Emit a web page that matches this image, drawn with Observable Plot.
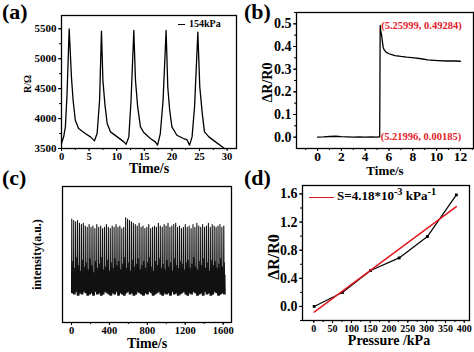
<!DOCTYPE html>
<html><head><meta charset="utf-8">
<script src="https://cdn.jsdelivr.net/npm/d3@7"></script>
<script src="https://cdn.jsdelivr.net/npm/@observablehq/plot@0.6"></script>
<style>
body{margin:0;background:#fff;}
#root{position:relative;width:474px;height:352px;overflow:hidden;background:#fff;font-family:"Liberation Serif",serif;font-weight:bold;color:#000;}
.panel{position:absolute;}
.panel svg{overflow:visible;}
.tag{position:absolute;font-size:22px;line-height:20px;}
.leg{position:absolute;white-space:nowrap;}
.leg .ln{display:inline-block;vertical-align:middle;}
sup{font-size:80%;line-height:0;}
</style></head><body><div id="root"></div>
<script>
// ---------- (a) resistance vs time at 154 kPa ----------
const aT = [0,0.4,0.7,1.0,1.39,1.8,2.1,2.5,3.1,4.3,5.25,5.97,6.45,6.9,7.24,7.5,7.85,8.27,8.87,10.1,11.3,11.7,12.2,12.6,13.1,13.4,13.8,14.3,14.9,16.1,17.0,17.4,17.9,18.4,18.95,19.25,19.6,20.0,20.9,22.1,22.7,23.2,23.65,24.1,24.7,25.05,25.5,25.9,26.7,27.9,29.1,29.5];
const aR = [3583,3700,3861,4400,5500,4694,4306,3972,3833,3750,3694,3628,3750,4306,5461,4639,4250,3917,3778,3694,3611,3572,3694,4306,5472,4639,4194,3861,3767,3667,3611,3556,3750,4306,5472,4528,4139,3861,3722,3667,3650,3556,3694,4194,5444,4528,4083,3778,3694,3611,3528,3500];
const aTicksX = [0,5,10,15,20,25,30];
const aTicksY = [3500,4000,4500,5000,5500];
const aLegend = "154kPa";

// ---------- (b) response step ----------
const bT = [0,0.5,1,1.5,2,2.5,3,3.5,4,4.5,5,5.21996,5.25999,5.3,5.38,5.45,5.52,5.6,5.75,6,6.17,6.5,7,7.5,8.13,8.7,9.25,10.1,10.9,11.5,12];
const bV = [0.000,0.001,0.003,0.004,0.002,0.001,0.000,0.001,0.000,0.001,0.000,0.00185,0.49284,0.47,0.45,0.42,0.395,0.385,0.375,0.368,0.365,0.36,0.356,0.353,0.35,0.346,0.341,0.338,0.336,0.336,0.335];
const bTicksX = [0,2,4,6,8,10,12];
const bTicksY = [0,0.1,0.2,0.3,0.4,0.5];
const bNoteX = [5.25999,5.21996];
const bNoteY = [0.49284,0.00185];
const bNoteText = ["(5.25999, 0.49284)","(5.21996, 0.00185)"];

// ---------- (c) cycling intensity ----------
const cPeak = [0.76,0.75,0.74,0.75,0.73,0.72,0.73,0.71,0.70,0.72,
  0.70,0.71,0.69,0.72,0.70,0.71,0.69,0.70,0.72,0.70,
  0.69,0.71,0.70,0.72,0.70,0.71,0.69,0.70,0.77,0.76,
  0.75,0.74,0.73,0.72,0.71,0.73,0.70,0.71,0.69,0.70,
  0.72,0.69,0.70,0.71,0.70,0.73,0.71,0.70,0.72,0.71,
  0.73,0.70,0.71,0.72,0.73,0.70,0.71,0.69,0.70,0.72,
  0.70,0.71,0.69,0.72,0.70,0.73,0.71,0.70,0.72,0.70,
  0.71,0.73,0.70,0.72,0.71,0.70,0.71,0.72,0.70,0.71];
const cMid = [0.45,0.40,0.48,0.42,0.38,0.46,0.41,0.44,0.39,0.47,
  0.42,0.37,0.45,0.40,0.43,0.48,0.39,0.41,0.46,0.38,
  0.44,0.40,0.47,0.42,0.45,0.39,0.43,0.48,0.40,0.44,
  0.38,0.46,0.41,0.43,0.47,0.39,0.42,0.45,0.40,0.44,
  0.48,0.41,0.38,0.45,0.42,0.47,0.40,0.43,0.39,0.46,
  0.41,0.44,0.38,0.47,0.42,0.40,0.45,0.43,0.39,0.44,
  0.46,0.40,0.43,0.48,0.41,0.39,0.45,0.42,0.47,0.40,
  0.44,0.38,0.46,0.42,0.45,0.40,0.43,0.47,0.41,0.44];
const cMid2 = [0.33,0.36,0.31,0.38,0.34,0.30,0.37,0.35,0.32,0.36,
  0.39,0.33,0.31,0.35,0.37,0.32,0.34,0.38,0.30,0.36,
  0.33,0.37,0.35,0.31,0.34,0.38,0.32,0.36,0.33,0.30,
  0.35,0.37,0.32,0.34,0.31,0.38,0.36,0.33,0.35,0.30,
  0.34,0.37,0.32,0.36,0.39,0.33,0.31,0.35,0.37,0.32,
  0.36,0.30,0.34,0.38,0.33,0.35,0.31,0.37,0.34,0.32,
  0.36,0.33,0.38,0.31,0.35,0.37,0.32,0.34,0.30,0.36,
  0.33,0.37,0.35,0.31,0.34,0.38,0.32,0.36,0.33,0.35];
const cLow = [0.22,0.21,0.23,0.20,0.22,0.21,0.23,0.22,0.20,0.21,
  0.22,0.20,0.23,0.21,0.22,0.20,0.21,0.23,0.22,0.21,
  0.20,0.22,0.21,0.23,0.20,0.22,0.21,0.20,0.22,0.23,
  0.21,0.22,0.20,0.21,0.23,0.22,0.21,0.20,0.22,0.21,
  0.23,0.22,0.20,0.21,0.22,0.23,0.21,0.20,0.22,0.21,
  0.22,0.20,0.23,0.21,0.22,0.20,0.21,0.22,0.23,0.21,
  0.20,0.22,0.21,0.23,0.22,0.20,0.21,0.22,0.20,0.23,
  0.21,0.22,0.20,0.21,0.23,0.22,0.20,0.21,0.22,0.21];
const cPeriod = 20.3; // seconds per loading cycle
const cTicksX = [0,400,800,1200,1600];

// ---------- (d) sensitivity ----------
const dP = [1,76,151,227,302,379];
const dR = [0.0,0.199,0.511,0.69,0.994,1.586];
const dFitP = [1,379];
const dFitR = [-0.08,1.42];
const dTicksX = [0,50,100,150,200,250,300,350,400];
const dTicksY = [0,0.4,0.8,1.2,1.6];

const root = document.getElementById("root");
const baseStyle = {fontFamily:"Liberation Serif, serif", fontWeight:"bold", fontSize:"10px", overflow:"visible", background:"none", color:"black"};
function place(svg, left, top){
  const d = document.createElement("div"); d.className="panel";
  d.style.left = left+"px"; d.style.top = top+"px"; d.appendChild(svg); root.appendChild(d);
}
function tag(txt, left, top){
  const d = document.createElement("div"); d.className="tag"; d.textContent=txt;
  d.style.left=left+"px"; d.style.top=top+"px"; root.appendChild(d);
}
const range = (a,b,s)=>d3.range(a,b+s/2,s);
const yTitle = (s, dx, dy, fs) => Plot.text([s], {text:d=>d, frameAnchor:"left", textAnchor:"middle", rotate:-90, dx, dy, fontSize:fs});

// (a)
const aData = aT.map((t,i)=>({t, r:aR[i]}));
place(Plot.plot({
  width:237, height:176, marginLeft:61, marginRight:1, marginTop:15, marginBottom:28,
  style: baseStyle,
  x:{domain:[0,31.7]}, y:{domain:[3500,5722]},
  marks:[
    Plot.axisX({ticks: range(0,30,2.5), tickSize:2, tickFormat:()=>"", label:null}),
    Plot.axisY({ticks: range(3500,5500,250), tickSize:2, tickFormat:()=>"", label:null}),
    Plot.axisX({ticks:aTicksX, tickSize:3, tickPadding:1, fontSize:10.5, tickFormat:"d", label:null}),
    Plot.axisY({ticks:aTicksY, tickSize:3, tickPadding:2, fontSize:11, tickFormat:"d", label:null}),
    Plot.line(aData, {x:"t", y:"r", stroke:"black", strokeWidth:1.3}),
    Plot.frame({stroke:"black", strokeWidth:1.3}),
    Plot.text(["Time/s"], {text:d=>d, frameAnchor:"bottom", dy:24.5, fontSize:14}),
    yTitle("R/Ω", -34, 2, 10)
  ]
}), 0, 0);

// (b)
const bData = bT.map((t,i)=>({t, v:bV[i]}));
const bNotes = bNoteX.map((x,i)=>({x, y:bNoteY[i], s:bNoteText[i]}));
place(Plot.plot({
  width:237, height:176, marginLeft:59, marginRight:1, marginTop:12, marginBottom:28,
  style: baseStyle,
  x:{domain:[-1.77,13.1]}, y:{domain:[-0.05,0.55]},
  marks:[
    Plot.axisX({ticks: range(-1,13,1), tickSize:2, tickFormat:()=>"", label:null}),
    Plot.axisY({ticks: range(0,0.55,0.05), tickSize:2, tickFormat:()=>"", label:null}),
    Plot.axisX({ticks:bTicksX, tickSize:3, tickPadding:0, fontSize:13.5, tickFormat:"d", label:null}),
    Plot.axisY({ticks:bTicksY, tickSize:3, tickPadding:2, fontSize:14, tickFormat:".1f", label:null}),
    Plot.line(bData, {x:"t", y:"v", stroke:"black", strokeWidth:1.3}),
    Plot.frame({stroke:"black", strokeWidth:1.3}),
    Plot.text(bNotes, {x:"x", y:"y", text:"s", textAnchor:"start", dx:1, fill:"#e3202a", fontSize:10.5}),
    Plot.text(["Time/s"], {text:d=>d, frameAnchor:"bottom", dy:26, fontSize:13}),
    yTitle("ΔR/R0", -29, 2, 14)
  ]
}), 237, 0);

// (c)
const cData = [];
cPeak.forEach((p,i)=>{
  const t0 = i*cPeriod;
  cData.push({t:t0, v:cLow[i]});
  cData.push({t:t0+3, v:p});
  cData.push({t:t0+6, v:cLow[i]});
  cData.push({t:t0+9, v:cMid[i]});
  cData.push({t:t0+12, v:cLow[i]});
  cData.push({t:t0+15, v:cMid2[i]});
  cData.push({t:t0+18, v:cLow[i]});
});
place(Plot.plot({
  width:237, height:176, marginLeft:62, marginRight:6, marginTop:10, marginBottom:30,
  style: baseStyle,
  x:{domain:[-95,1688]}, y:{domain:[0,1], axis:null},
  marks:[
    Plot.axisX({ticks: range(0,1600,200), tickSize:2, tickFormat:()=>"", label:null}),
    Plot.axisX({ticks:cTicksX, tickSize:3, tickPadding:1, fontSize:10.5, tickFormat:"d", label:null}),
    Plot.line(cData, {x:"t", y:"v", stroke:"#111", strokeWidth:1.1}),
    Plot.frame({stroke:"black", strokeWidth:1.3}),
    Plot.text(["Time/s"], {text:d=>d, frameAnchor:"bottom", dy:25, fontSize:14}),
    yTitle("intensity(a.u.)", -25, 0, 12)
  ]
}), 0, 176);

// (d)
const dData = dP.map((p,i)=>({p, r:dR[i]}));
const dFit = dFitP.map((p,i)=>({p, r:dFitR[i]}));
place(Plot.plot({
  width:237, height:176, marginLeft:65, marginRight:5, marginTop:9, marginBottom:32,
  style: baseStyle,
  x:{domain:[-30,414]}, y:{domain:[-0.2,1.72]},
  marks:[
    Plot.axisX({ticks: range(0,400,25), tickSize:2, tickFormat:()=>"", label:null}),
    Plot.axisY({ticks: range(-0.2,1.6,0.2), tickSize:2, tickFormat:()=>"", label:null}),
    Plot.axisX({ticks:dTicksX, tickSize:3, tickPadding:1, fontSize:10, tickFormat:"d", label:null}),
    Plot.axisY({ticks:dTicksY, tickSize:3, tickPadding:2, fontSize:14, tickFormat:".1f", label:null}),
    Plot.line(dData, {x:"p", y:"r", stroke:"black", strokeWidth:1.2}),
    Plot.dot(dData, {x:"p", y:"r", symbol:"square", r:1.6, fill:"black"}),
    Plot.line(dFit, {x:"p", y:"r", stroke:"#e3191f", strokeWidth:1.5}),
    Plot.frame({stroke:"black", strokeWidth:1.3}),
    Plot.text(["Pressure /kPa"], {text:d=>d, frameAnchor:"bottom", dy:24, dx:3, fontSize:14}),
    yTitle("ΔR/R0", -29, 4, 16)
  ]
}), 237, 176);

// panel tags
tag("(a)", 2, 2); tag("(b)", 244, 2); tag("(c)", 2, 168); tag("(d)", 244, 168);

// legends
const la = document.createElement("div"); la.className="leg";
la.style.left="178px"; la.style.top="18px"; la.style.fontSize="10px";
la.innerHTML = '<span class="ln" style="width:7px;border-top:1.3px solid #000;margin-right:4px"></span>' + aLegend;
root.appendChild(la);
const ld = document.createElement("div"); ld.className="leg";
ld.style.left="309px"; ld.style.top="188px"; ld.style.fontSize="13px";
ld.innerHTML = '<span class="ln" style="width:25px;border-top:1.5px solid #e3191f;margin-right:3px"></span>S=4.18*10<sup>-3</sup> kPa<sup>-1</sup>';
root.appendChild(ld);
</script></body></html>
